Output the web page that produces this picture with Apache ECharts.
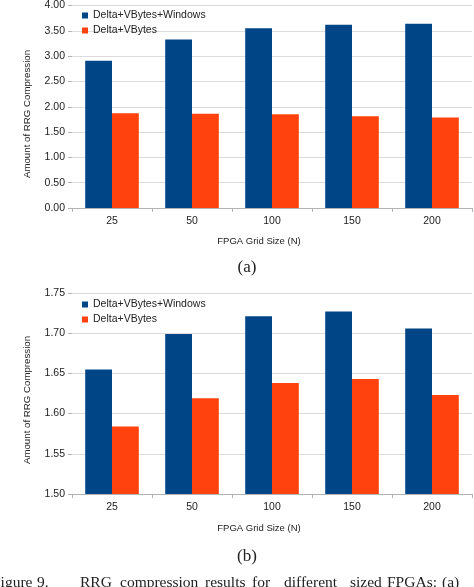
<!DOCTYPE html>
<html><head><meta charset="utf-8">
<script src="https://cdn.jsdelivr.net/npm/echarts@6/dist/echarts.min.js"></script>
<style>html,body{margin:0;padding:0;background:#fff;overflow:hidden}#c{width:474px;height:587px}</style>
</head><body><div id="c"></div>
<script>
const categories = ['25', '50', '100', '150', '200'];
const seriesNames = ['Delta+VBytes+Windows', 'Delta+VBytes'];
const chartA_windows = [2.91, 3.33, 3.55, 3.62, 3.64];
const chartA_vbytes = [1.87, 1.86, 1.85, 1.81, 1.79];
const chartB_windows = [1.655, 1.699, 1.721, 1.727, 1.706];
const chartB_vbytes = [1.584, 1.619, 1.638, 1.643, 1.623];
const yTicksA = {min: 0, max: 4, interval: 0.5};
const yTicksB = {min: 1.5, max: 1.75, interval: 0.05};
const xTitle = 'FPGA Grid Size (N)';
const yTitle = 'Amount of RRG Compression';
const subA = '(a)', subB = '(b)';
const captionWords = ['Figure', '9.', 'RRG', 'compression', 'results', 'for', 'different', 'sized', 'FPGAs:', '(a)'];

const BLUE = '#004586', ORANGE = '#ff420e';
const SANS = '"Liberation Sans", Arial, sans-serif';
const SERIF = '"Liberation Serif", "DejaVu Serif", serif';
const chart = echarts.init(document.getElementById('c'));

function yAxis(gi, t) {
  return {
    gridIndex: gi, type: 'value', min: t.min, max: t.max, interval: t.interval,
    axisLine: {show: false},
    axisTick: {show: true, length: 4, lineStyle: {color: '#b3b3b3'}},
    axisLabel: {fontFamily: SANS, fontSize: 10.5, color: '#222', margin: 7,
      formatter: v => v.toFixed(2)},
    splitLine: {lineStyle: {color: '#dcdcdc', width: 1}}
  };
}
function xAxis(gi) {
  return {
    gridIndex: gi, type: 'category', data: categories,
    axisLine: {lineStyle: {color: '#b3b3b3'}},
    axisTick: {show: true, length: 4, lineStyle: {color: '#b3b3b3'}},
    axisLabel: {fontFamily: SANS, fontSize: 10.5, color: '#222', margin: 8}
  };
}
function bars(name, data, color, gi) {
  return {
    name, type: 'bar', data, xAxisIndex: gi, yAxisIndex: gi,
    barGap: '0%', barCategoryGap: '33%',
    itemStyle: {color}, animation: false
  };
}
function legend(top) {
  return {
    orient: 'vertical', left: 77, top, itemWidth: 6, itemHeight: 6, itemGap: 4,
    icon: 'rect', data: seriesNames,
    textStyle: {fontFamily: SANS, fontSize: 10.5, color: '#222'}
  };
}
function text(x, y, s, font, size, rot) {
  return {type: 'text', x, y, rotation: rot || 0,
    style: {text: s, font: size + 'px ' + font, fill: '#222',
      textAlign: 'center', textVerticalAlign: 'middle'}};
}

// caption word left edges (justified line in the reference)
const captionX = [-8, 37, 80, 120, 205, 252, 284, 350, 387, 442];
const captionGraphics = captionWords.map((w, i) => ({
  type: 'text', x: captionX[i], y: 575,
  style: {text: w, font: '15.5px ' + SERIF, fill: '#222', textAlign: 'left', textVerticalAlign: 'top'}
}));

chart.setOption({
  animation: false,
  grid: [
    {left: 72, right: 2, top: 5, height: 203},
    {left: 72, right: 2, top: 293, height: 201}
  ],
  xAxis: [xAxis(0), xAxis(1)],
  yAxis: [yAxis(0, yTicksA), yAxis(1, yTicksB)],
  legend: [legend(5), legend(294)],
  series: [
    bars(seriesNames[0], chartA_windows, BLUE, 0),
    bars(seriesNames[1], chartA_vbytes, ORANGE, 0),
    bars(seriesNames[0], chartB_windows, BLUE, 1),
    bars(seriesNames[1], chartB_vbytes, ORANGE, 1)
  ],
  graphic: [
    text(259, 241, xTitle, SANS, 9.5),
    text(259, 528, xTitle, SANS, 9.5),
    text(27, 114, yTitle, SANS, 9.7, Math.PI / 2),
    text(27, 400, yTitle, SANS, 9.7, Math.PI / 2),
    text(247, 268, subA, SERIF, 17),
    text(247, 557, subB, SERIF, 17)
  ].concat(captionGraphics)
});
</script></body></html>
